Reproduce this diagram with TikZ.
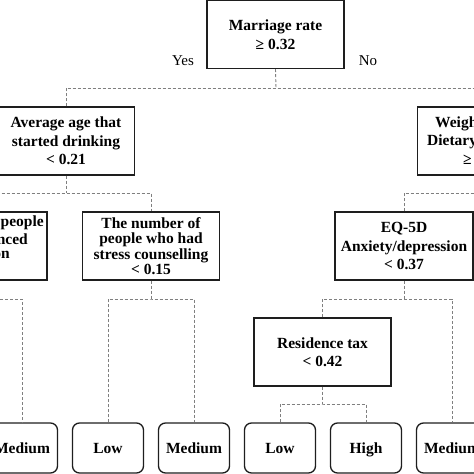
\documentclass[tikz,border=0pt]{standalone}
\usepackage{fontspec}
\setmainfont{Liberation Serif}
\definecolor{boxcol}{HTML}{1E1E1E}
\definecolor{conncol}{HTML}{7F7F7F}
\begin{document}
\begin{tikzpicture}[x=1pt,y=-1pt,
  box/.style={draw=boxcol, line width=1.3pt, fill=white, minimum width=137pt, minimum height=68pt, align=center, inner sep=0pt, font=\bfseries\fontsize{15.5}{18.5}\selectfont},
  tight/.style={font=\bfseries\fontsize{15.5}{15.4}\selectfont},
  frag/.style={inner sep=0pt, font=\bfseries\fontsize{15.5}{18}\selectfont},
  leaf/.style={draw=boxcol, line width=1.3pt, fill=white, rounded corners=7pt, minimum width=71pt, minimum height=50pt, inner sep=0pt, text depth=-1.5pt, font=\bfseries\fontsize{15.5}{18}\selectfont},
  conn/.style={draw=conncol, dash pattern=on 3pt off 2pt, line width=0.9pt},
  lbl/.style={inner sep=0pt, font=\fontsize{15}{18}\selectfont}]
\useasboundingbox (0,0) rectangle (474,474);
\clip (0,0) rectangle (474,474);

\coordinate (j0) at (276,88);
\coordinate (j1) at (66,193);
\coordinate (j2) at (486,193);
\coordinate (j3) at (-25,299);
\coordinate (j4) at (151,299);
\coordinate (j5) at (404,299);
\coordinate (j6) at (322.5,404);

% boxes
\node[box] (root) at (275.5,34.5) {Marriage rate\\≥ 0.32};
\node[box] (avg) at (66,141) {Average age that\\started drinking\\< 0.21};
\node[box] (wt) at (486,141) {};
\node[box, minimum width=144pt] (ppl) at (-25,246) {};
\node[box, tight] (num) at (151,246) {The number of\\people who had\\stress counselling\\< 0.15};
\node[box, minimum width=138pt] (eq) at (404,246) {EQ-5D\\Anxiety/depression\\< 0.37};
\node[box] (res) at (322.5,352) {Residence tax\\< 0.42};

% fragments of the cut-off boxes
\node[frag, anchor=west] (wt1) at (435,124) {Weigh};
\node[frag, anchor=west] (wt2) at (427,142) {Dietary};
\node[frag, anchor=west] (wt3) at (463,160) {≥};
\node[frag, anchor=east] (pp1) at (44,223) {f people};
\node[frag, anchor=east] (pp2) at (28,239) {nced};
\node[frag, anchor=east] (pp3) at (10,254.5) {on};

% leaves
\node[leaf] (l1) at (22,448) {Medium};
\node[leaf] (l2) at (108,448) {Low};
\node[leaf] (l3) at (194,448) {Medium};
\node[leaf] (l4) at (280,448) {Low};
\node[leaf] (l5) at (366,448) {High};
\node[leaf] (l6) at (452,448) {Medium};

% labels
\node[lbl] (yes) at (183,61) {Yes};
\node[lbl] (no) at (368,61) {No};

% connectors
\draw[conn] (root.south) -- (j0);
\draw[conn] (avg.north) |- (j0) -| (wt.north);
\draw[conn] (avg.south) -- (j1);
\draw[conn] (ppl.north) |- (j1) -| (num.north);
\draw[conn] (wt.south) -- (j2);
\draw[conn] (eq.north) |- (j2);
\draw[conn] (ppl.south) -- (j3);
\draw[conn] (j3) -| (l1.north);
\draw[conn] (num.south) -- (j4);
\draw[conn] (l2.north) |- (j4) -| (l3.north);
\draw[conn] (eq.south) -- (j5);
\draw[conn] (res.north) |- (j5) -| (l6.north);
\draw[conn] (res.south) -- (j6);
\draw[conn] (l4.north) |- (j6) -| (l5.north);
\end{tikzpicture}
\end{document}
